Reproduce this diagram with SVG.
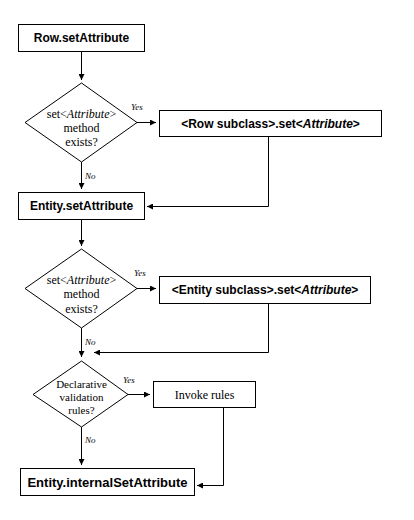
<svg xmlns="http://www.w3.org/2000/svg" width="414" height="520" viewBox="0 0 414 520">
<style>
.box{fill:#fff;stroke:#000;stroke-width:1}
.dia{fill:#fff;stroke:#000;stroke-width:1}
.lbl{font-family:"Liberation Sans",Arial,sans-serif;font-weight:bold;font-size:12px;fill:#000;text-anchor:middle}
.dt{font-family:"Liberation Serif","Times New Roman",serif;font-size:12px;fill:#000;text-anchor:middle}
.dt2{font-family:"Liberation Serif","Times New Roman",serif;font-size:11px;fill:#000;text-anchor:middle}
.yn{font-family:"Liberation Serif","Times New Roman",serif;font-style:italic;font-size:9px;fill:#000}
.ln{fill:none;stroke:#000;stroke-width:1}
</style>
<defs>
<marker id="ah" viewBox="0 0 6 6" refX="6" refY="3" markerWidth="6" markerHeight="6" markerUnits="userSpaceOnUse" orient="auto">
<path d="M0,0 L6,3 L0,6 Z" fill="#000"/>
</marker>
</defs>
<rect width="414" height="520" fill="#fff"/>
<g id="connectors">
<path class="ln" d="M81.5,51 V80" marker-end="url(#ah)"/>
<path class="ln" d="M137,122.5 H156" marker-end="url(#ah)"/>
<path class="ln" d="M268.5,137 V206.5 H147" marker-end="url(#ah)"/>
<path class="ln" d="M81.5,162 V189" marker-end="url(#ah)"/>
<path class="ln" d="M81.5,219 V246" marker-end="url(#ah)"/>
<path class="ln" d="M137,288.5 H156" marker-end="url(#ah)"/>
<path class="ln" d="M268.5,304 V352.5 H94" marker-end="url(#ah)"/>
<path class="ln" d="M81.5,328 V357" marker-end="url(#ah)"/>
<path class="ln" d="M128,394.5 H150" marker-end="url(#ah)"/>
<path class="ln" d="M223.5,408 V485.5 H197" marker-end="url(#ah)"/>
<path class="ln" d="M81.5,427 V465" marker-end="url(#ah)"/>
<text class="yn" x="131" y="110">Yes</text>
<text class="yn" x="85" y="179">No</text>
<text class="yn" x="134" y="276">Yes</text>
<text class="yn" x="85" y="345">No</text>
<text class="yn" x="123" y="383">Yes</text>
<text class="yn" x="85" y="443">No</text>
</g>
<g id="row-setAttribute">
<rect class="box" x="18.5" y="24.5" width="126" height="27"/>
<text class="lbl" x="81.5" y="42">Row.setAttribute</text>
</g>
<g id="decision-row-method">
<polygon class="dia" points="81.5,83 137,122.5 81.5,162 25,122.5"/>
<text class="dt" x="81.5" y="118">set&lt;<tspan font-style="italic">Attribute</tspan>&gt;</text>
<text class="dt" x="81.5" y="132">method</text>
<text class="dt" x="81.5" y="146">exists?</text>
</g>
<g id="row-subclass-set">
<rect class="box" x="159.5" y="110.5" width="222" height="26"/>
<text class="lbl" x="270.5" y="128">&lt;Row subclass&gt;.set&lt;<tspan font-style="italic">Attribute</tspan>&gt;</text>
</g>
<g id="entity-setAttribute">
<rect class="box" x="18.5" y="192.5" width="126" height="27"/>
<text class="lbl" x="81.5" y="210">Entity.setAttribute</text>
</g>
<g id="decision-entity-method">
<polygon class="dia" points="81.5,249 137,288.5 81.5,328 25,288.5"/>
<text class="dt" x="81.5" y="284">set&lt;<tspan font-style="italic">Attribute</tspan>&gt;</text>
<text class="dt" x="81.5" y="298">method</text>
<text class="dt" x="81.5" y="313">exists?</text>
</g>
<g id="entity-subclass-set">
<rect class="box" x="159.5" y="276.5" width="211" height="27"/>
<text class="lbl" x="265" y="294">&lt;Entity subclass&gt;.set&lt;<tspan font-style="italic">Attribute</tspan>&gt;</text>
</g>
<g id="decision-declarative">
<polygon class="dia" points="81.5,361 128,394.5 81.5,427 33,394.5"/>
<text class="dt2" x="81.5" y="388">Declarative</text>
<text class="dt2" x="81.5" y="400.8">validation</text>
<text class="dt2" x="81.5" y="413.6">rules?</text>
</g>
<g id="invoke-rules">
<rect class="box" x="153.5" y="381.5" width="102" height="26"/>
<text class="dt" x="204.5" y="399">Invoke rules</text>
</g>
<g id="entity-internalSetAttribute">
<rect class="box" x="20.5" y="468.5" width="174" height="27"/>
<text class="lbl" x="107.5" y="487" style="font-size:13px">Entity.internalSetAttribute</text>
</g>
</svg>
